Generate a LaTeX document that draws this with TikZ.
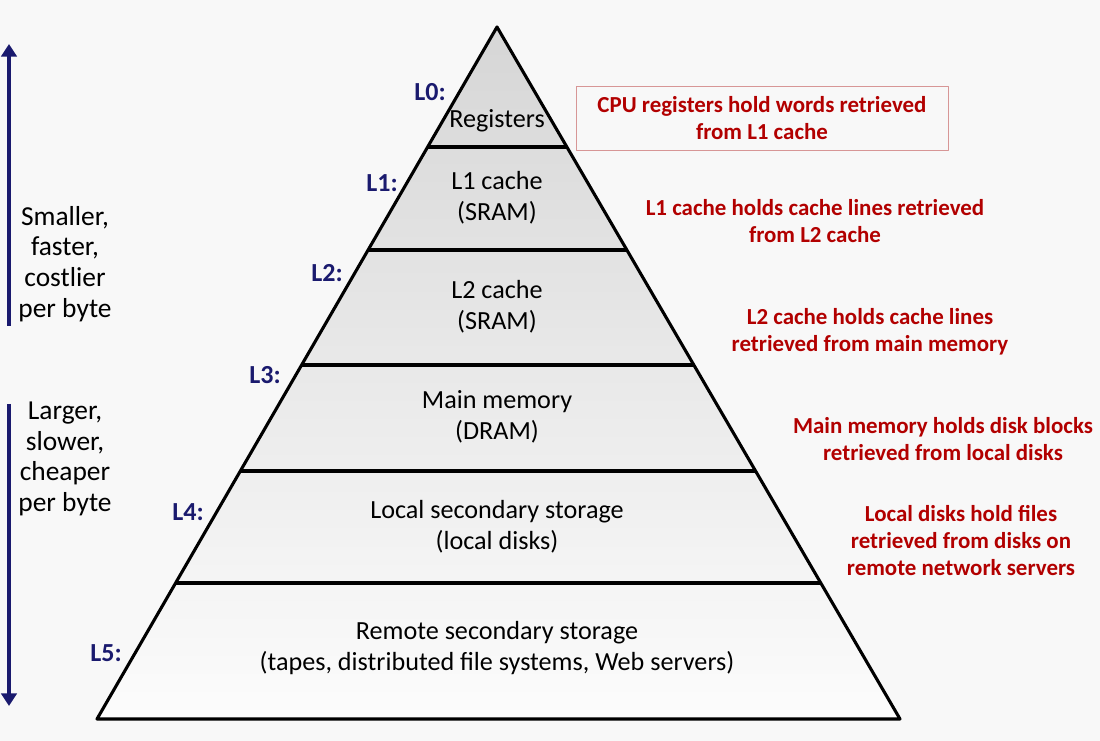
\documentclass[tikz,border=0pt]{standalone}
\usepackage{fontspec}
\setmainfont{Carlito}
\usetikzlibrary{calc,arrows.meta}
\definecolor{bgcol}{RGB}{248,248,248}
\definecolor{pyrtop}{RGB}{214,214,214}
\definecolor{pyrbot}{RGB}{252,252,252}
\definecolor{lvlcol}{RGB}{26,26,110}
\definecolor{notecol}{RGB}{178,0,0}
\definecolor{boxcol}{RGB}{215,150,150}
\tikzset{
  layer/.style={align=center,font=\fontsize{18.6}{22}\selectfont},
  lvl/.style={text=lvlcol,font=\fontsize{18.5}{20}\selectfont\bfseries},
  note/.style={align=center,text=notecol,font=\fontsize{16.3}{19.2}\selectfont\bfseries},
  side/.style={align=center,font=\fontsize{19.5}{21.8}\selectfont},
  trend/.style={draw=lvlcol,line width=3.5pt,-{Triangle[width=11pt,length=9pt]}}
}
\begin{document}
\begin{tikzpicture}[x=0.025cm,y=-0.025cm,line join=round]
		%==khung
		\fill[bgcol] (0,0) rectangle (1100,741);
		\useasboundingbox (0,0) rectangle (1100,741);
		%==kim tu thap
		\coordinate (T) at (497,27);
		\coordinate (L) at (97,719);
		\coordinate (R) at (900,719);
		\shade[top color=pyrtop,bottom color=pyrbot] (T)--(L)--(R)--cycle;
		\foreach \y in {147,250,365,471,583}
		\draw[line width=2.2pt] ($(T)!{(\y-27)/692}!(L)$)--($(T)!{(\y-27)/692}!(R)$);
		\draw[line width=2.2pt] (T)--(L)--(R)--cycle;
		%==cac tang
		\node[layer] (reg) at (497,121) {Registers};
		\node[layer] (l1) at (497,198) {L1 cache\\(SRAM)};
		\node[layer] (l2) at (497,307) {L2 cache\\(SRAM)};
		\node[layer] (mem) at (497,417) {Main memory\\(DRAM)};
		\node[layer] (loc) at (497,527) {Local secondary storage\\(local disks)};
		\node[layer] (rem) at (497,648) {Remote secondary storage\\(tapes, distributed file systems, Web servers)};
		%==nhan muc
		\node[lvl] (L0) at (430,92) {L0:};
		\node[lvl] (L1) at (382,183) {L1:};
		\node[lvl] (L2) at (327,273) {L2:};
		\node[lvl] (L3) at (265,375) {L3:};
		\node[lvl] (L4) at (188,512) {L4:};
		\node[lvl] (L5) at (106,653) {L5:};
		%==ghi chu
		\node[note,draw=boxcol,line width=0.6pt,minimum width=372*0.025cm,minimum height=64*0.025cm] (n0) at (762,118) {CPU registers hold words retrieved\\from L1 cache};
		\node[note] (n1) at (815,221) {L1 cache holds cache lines retrieved\\from L2 cache};
		\node[note] (n2) at (870,332) {L2 cache holds cache lines\\retrieved from main memory};
		\node[note] (n3) at (943,439) {Main memory holds disk blocks\\retrieved from local disks};
		\node[note] (n4) at (961,541) {Local disks hold files\\retrieved from disks on\\remote network servers};
		%==mui ten ben trai
		\node[side] (up) at (65,264) {Smaller,\\faster,\\costlier\\per byte};
		\node[side] (down) at (65,459) {Larger,\\slower,\\cheaper\\per byte};
		\coordinate (upA) at (9,326);
		\coordinate (upB) at (9,44);
		\coordinate (dnA) at (9,404);
		\coordinate (dnB) at (9,706);
		\draw[trend] (upA)--(upB);
		\draw[trend] (dnA)--(dnB);
		\end{tikzpicture}
\end{document}
